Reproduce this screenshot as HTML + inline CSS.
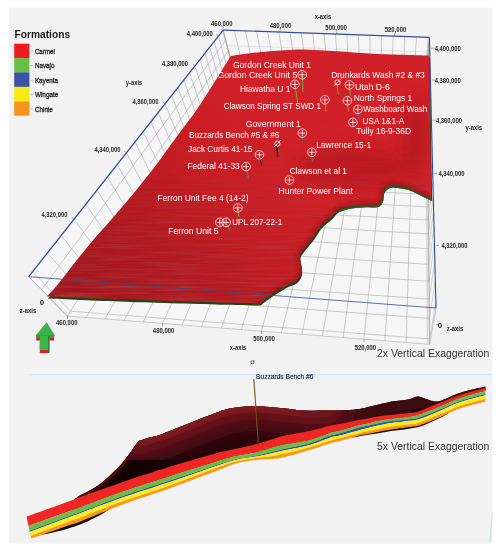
<!DOCTYPE html>
<html><head><meta charset="utf-8"><title>Formations 3D model</title>
<style>html,body{margin:0;padding:0;background:#fff}svg{display:block}</style></head>
<body>
<svg width="501" height="550" viewBox="0 0 501 550">
<defs>
<linearGradient id="rg" gradientUnits="userSpaceOnUse" x1="275" y1="125" x2="75" y2="325">
<stop offset="0" stop-color="#d22028"/><stop offset="0.325" stop-color="#c61c23"/><stop offset="0.7" stop-color="#ab181e"/><stop offset="1" stop-color="#9d161c"/>
</linearGradient>
<filter id="bl" x="-50%" y="-50%" width="200%" height="200%"><feGaussianBlur stdDeviation="6"/></filter>
<filter id="bl2" x="-50%" y="-50%" width="200%" height="200%"><feGaussianBlur stdDeviation="2"/></filter>
<filter id="bl3" x="-50%" y="-50%" width="200%" height="200%"><feGaussianBlur stdDeviation="3"/></filter>

<filter id="tex" x="0" y="0" width="100%" height="100%"><feTurbulence type="fractalNoise" baseFrequency="0.02 0.45" numOctaves="2" seed="7"/><feColorMatrix type="matrix" values="0 0 0 0 0.45  0 0 0 0 0.04  0 0 0 0 0.05  1.8 0 0 0 -0.72"/></filter>
<linearGradient id="texm" gradientUnits="userSpaceOnUse" x1="0" y1="120" x2="0" y2="300"><stop offset="0" stop-color="#fff" stop-opacity="0"/><stop offset="0.5" stop-color="#fff" stop-opacity="0.6"/><stop offset="1" stop-color="#fff" stop-opacity="1"/></linearGradient>
<mask id="texmask"><rect x="0" y="0" width="501" height="550" fill="url(#texm)"/></mask>
</defs>
<rect width="501" height="550" fill="#ffffff"/>
<rect x="8.8" y="7.6" width="483.6" height="536" fill="#f2f2f2"/>
<polygon points="223.2,30.1 429.4,37.4 426.9,66.3 231.2,61.1" fill="#f6f6f6" />
<polygon points="223.2,30.1 231.2,61.1 67.4,316.0 28.7,276.7" fill="#f6f6f6" />
<polygon points="231.2,61.1 426.9,66.3 429.6,344.3 67.4,316.0" fill="#f7f7f7" />
<polygon points="429.4,37.4 436.0,308.0 429.6,344.3 426.9,66.3" fill="#f6f6f6" />
<line x1="231.2" y1="61.1" x2="67.4" y2="316.0" stroke="#9a9a9a" stroke-width="0.5" />
<line x1="241.6" y1="61.4" x2="86.1" y2="317.5" stroke="#9a9a9a" stroke-width="0.5" />
<line x1="252.1" y1="61.6" x2="105.0" y2="318.9" stroke="#9a9a9a" stroke-width="0.5" />
<line x1="262.7" y1="61.9" x2="124.0" y2="320.4" stroke="#9a9a9a" stroke-width="0.5" />
<line x1="273.2" y1="62.2" x2="143.2" y2="321.9" stroke="#9a9a9a" stroke-width="0.5" />
<line x1="283.8" y1="62.5" x2="162.5" y2="323.4" stroke="#9a9a9a" stroke-width="0.5" />
<line x1="294.5" y1="62.8" x2="182.0" y2="325.0" stroke="#9a9a9a" stroke-width="0.5" />
<line x1="305.2" y1="63.1" x2="201.6" y2="326.5" stroke="#9a9a9a" stroke-width="0.5" />
<line x1="315.9" y1="63.3" x2="221.3" y2="328.0" stroke="#9a9a9a" stroke-width="0.5" />
<line x1="326.7" y1="63.6" x2="241.2" y2="329.6" stroke="#9a9a9a" stroke-width="0.5" />
<line x1="337.6" y1="63.9" x2="261.3" y2="331.1" stroke="#9a9a9a" stroke-width="0.5" />
<line x1="348.4" y1="64.2" x2="281.5" y2="332.7" stroke="#9a9a9a" stroke-width="0.5" />
<line x1="359.3" y1="64.5" x2="301.8" y2="334.3" stroke="#9a9a9a" stroke-width="0.5" />
<line x1="370.3" y1="64.8" x2="322.4" y2="335.9" stroke="#9a9a9a" stroke-width="0.5" />
<line x1="381.3" y1="65.1" x2="343.1" y2="337.5" stroke="#9a9a9a" stroke-width="0.5" />
<line x1="392.4" y1="65.4" x2="363.9" y2="339.2" stroke="#9a9a9a" stroke-width="0.5" />
<line x1="403.5" y1="65.7" x2="384.9" y2="340.8" stroke="#9a9a9a" stroke-width="0.5" />
<line x1="414.6" y1="66.0" x2="406.1" y2="342.5" stroke="#9a9a9a" stroke-width="0.5" />
<line x1="425.8" y1="66.3" x2="427.5" y2="344.1" stroke="#9a9a9a" stroke-width="0.5" />
<line x1="426.9" y1="66.3" x2="429.6" y2="344.3" stroke="#9a9a9a" stroke-width="0.5" />
<line x1="231.2" y1="61.1" x2="426.9" y2="66.3" stroke="#9a9a9a" stroke-width="0.5" />
<line x1="230.7" y1="61.8" x2="426.9" y2="67.1" stroke="#9a9a9a" stroke-width="0.5" />
<line x1="227.0" y1="67.6" x2="427.0" y2="73.2" stroke="#9a9a9a" stroke-width="0.5" />
<line x1="223.1" y1="73.7" x2="427.1" y2="79.6" stroke="#9a9a9a" stroke-width="0.5" />
<line x1="219.1" y1="79.9" x2="427.1" y2="86.2" stroke="#9a9a9a" stroke-width="0.5" />
<line x1="214.9" y1="86.4" x2="427.2" y2="93.1" stroke="#9a9a9a" stroke-width="0.5" />
<line x1="210.6" y1="93.2" x2="427.3" y2="100.4" stroke="#9a9a9a" stroke-width="0.5" />
<line x1="206.0" y1="100.3" x2="427.3" y2="107.9" stroke="#9a9a9a" stroke-width="0.5" />
<line x1="201.3" y1="107.7" x2="427.4" y2="115.8" stroke="#9a9a9a" stroke-width="0.5" />
<line x1="196.3" y1="115.4" x2="427.5" y2="124.0" stroke="#9a9a9a" stroke-width="0.5" />
<line x1="191.1" y1="123.4" x2="427.6" y2="132.7" stroke="#9a9a9a" stroke-width="0.5" />
<line x1="185.7" y1="131.9" x2="427.7" y2="141.7" stroke="#9a9a9a" stroke-width="0.5" />
<line x1="180.0" y1="140.7" x2="427.8" y2="151.2" stroke="#9a9a9a" stroke-width="0.5" />
<line x1="174.1" y1="150.0" x2="427.8" y2="161.2" stroke="#9a9a9a" stroke-width="0.5" />
<line x1="167.8" y1="159.7" x2="428.0" y2="171.7" stroke="#9a9a9a" stroke-width="0.5" />
<line x1="161.2" y1="170.0" x2="428.1" y2="182.8" stroke="#9a9a9a" stroke-width="0.5" />
<line x1="154.3" y1="180.7" x2="428.2" y2="194.5" stroke="#9a9a9a" stroke-width="0.5" />
<line x1="147.0" y1="192.1" x2="428.3" y2="206.9" stroke="#9a9a9a" stroke-width="0.5" />
<line x1="139.3" y1="204.1" x2="428.4" y2="220.0" stroke="#9a9a9a" stroke-width="0.5" />
<line x1="131.2" y1="216.8" x2="428.5" y2="233.9" stroke="#9a9a9a" stroke-width="0.5" />
<line x1="122.5" y1="230.2" x2="428.7" y2="248.7" stroke="#9a9a9a" stroke-width="0.5" />
<line x1="113.4" y1="244.4" x2="428.8" y2="264.4" stroke="#9a9a9a" stroke-width="0.5" />
<line x1="103.7" y1="259.6" x2="429.0" y2="281.2" stroke="#9a9a9a" stroke-width="0.5" />
<line x1="93.3" y1="275.7" x2="429.2" y2="299.1" stroke="#9a9a9a" stroke-width="0.5" />
<line x1="82.3" y1="292.8" x2="429.4" y2="318.3" stroke="#9a9a9a" stroke-width="0.5" />
<line x1="70.5" y1="311.2" x2="429.5" y2="338.9" stroke="#9a9a9a" stroke-width="0.5" />
<line x1="67.4" y1="316.0" x2="429.6" y2="344.3" stroke="#9a9a9a" stroke-width="0.5" />
<line x1="223.2" y1="30.1" x2="231.2" y2="61.1" stroke="#9a9a9a" stroke-width="0.5" />
<line x1="234.3" y1="30.5" x2="241.6" y2="61.4" stroke="#9a9a9a" stroke-width="0.5" />
<line x1="245.3" y1="30.9" x2="252.1" y2="61.6" stroke="#9a9a9a" stroke-width="0.5" />
<line x1="256.5" y1="31.3" x2="262.7" y2="61.9" stroke="#9a9a9a" stroke-width="0.5" />
<line x1="267.6" y1="31.7" x2="273.2" y2="62.2" stroke="#9a9a9a" stroke-width="0.5" />
<line x1="278.8" y1="32.1" x2="283.8" y2="62.5" stroke="#9a9a9a" stroke-width="0.5" />
<line x1="290.1" y1="32.5" x2="294.5" y2="62.8" stroke="#9a9a9a" stroke-width="0.5" />
<line x1="301.4" y1="32.9" x2="305.2" y2="63.1" stroke="#9a9a9a" stroke-width="0.5" />
<line x1="312.7" y1="33.3" x2="315.9" y2="63.3" stroke="#9a9a9a" stroke-width="0.5" />
<line x1="324.1" y1="33.7" x2="326.7" y2="63.6" stroke="#9a9a9a" stroke-width="0.5" />
<line x1="335.5" y1="34.1" x2="337.6" y2="63.9" stroke="#9a9a9a" stroke-width="0.5" />
<line x1="346.9" y1="34.5" x2="348.4" y2="64.2" stroke="#9a9a9a" stroke-width="0.5" />
<line x1="358.4" y1="34.9" x2="359.3" y2="64.5" stroke="#9a9a9a" stroke-width="0.5" />
<line x1="369.9" y1="35.3" x2="370.3" y2="64.8" stroke="#9a9a9a" stroke-width="0.5" />
<line x1="381.5" y1="35.7" x2="381.3" y2="65.1" stroke="#9a9a9a" stroke-width="0.5" />
<line x1="393.1" y1="36.1" x2="392.4" y2="65.4" stroke="#9a9a9a" stroke-width="0.5" />
<line x1="404.8" y1="36.5" x2="403.5" y2="65.7" stroke="#9a9a9a" stroke-width="0.5" />
<line x1="416.5" y1="36.9" x2="414.6" y2="66.0" stroke="#9a9a9a" stroke-width="0.5" />
<line x1="428.2" y1="37.4" x2="425.8" y2="66.3" stroke="#9a9a9a" stroke-width="0.5" />
<line x1="429.4" y1="37.4" x2="426.9" y2="66.3" stroke="#9a9a9a" stroke-width="0.5" />
<line x1="227.2" y1="45.6" x2="428.2" y2="51.8" stroke="#c4c4c4" stroke-width="0.4" />
<line x1="222.7" y1="30.8" x2="230.7" y2="61.8" stroke="#9a9a9a" stroke-width="0.5" />
<line x1="218.5" y1="36.1" x2="227.0" y2="67.6" stroke="#9a9a9a" stroke-width="0.5" />
<line x1="214.2" y1="41.5" x2="223.1" y2="73.7" stroke="#9a9a9a" stroke-width="0.5" />
<line x1="209.7" y1="47.3" x2="219.1" y2="79.9" stroke="#9a9a9a" stroke-width="0.5" />
<line x1="205.0" y1="53.2" x2="214.9" y2="86.4" stroke="#9a9a9a" stroke-width="0.5" />
<line x1="200.0" y1="59.5" x2="210.6" y2="93.2" stroke="#9a9a9a" stroke-width="0.5" />
<line x1="194.9" y1="66.0" x2="206.0" y2="100.3" stroke="#9a9a9a" stroke-width="0.5" />
<line x1="189.5" y1="72.8" x2="201.3" y2="107.7" stroke="#9a9a9a" stroke-width="0.5" />
<line x1="183.8" y1="80.0" x2="196.3" y2="115.4" stroke="#9a9a9a" stroke-width="0.5" />
<line x1="177.9" y1="87.5" x2="191.1" y2="123.4" stroke="#9a9a9a" stroke-width="0.5" />
<line x1="171.7" y1="95.4" x2="185.7" y2="131.9" stroke="#9a9a9a" stroke-width="0.5" />
<line x1="165.1" y1="103.8" x2="180.0" y2="140.7" stroke="#9a9a9a" stroke-width="0.5" />
<line x1="158.2" y1="112.5" x2="174.1" y2="150.0" stroke="#9a9a9a" stroke-width="0.5" />
<line x1="150.9" y1="121.8" x2="167.8" y2="159.7" stroke="#9a9a9a" stroke-width="0.5" />
<line x1="143.2" y1="131.5" x2="161.2" y2="170.0" stroke="#9a9a9a" stroke-width="0.5" />
<line x1="135.0" y1="141.9" x2="154.3" y2="180.7" stroke="#9a9a9a" stroke-width="0.5" />
<line x1="126.4" y1="152.9" x2="147.0" y2="192.1" stroke="#9a9a9a" stroke-width="0.5" />
<line x1="117.2" y1="164.5" x2="139.3" y2="204.1" stroke="#9a9a9a" stroke-width="0.5" />
<line x1="107.4" y1="176.9" x2="131.2" y2="216.8" stroke="#9a9a9a" stroke-width="0.5" />
<line x1="97.0" y1="190.1" x2="122.5" y2="230.2" stroke="#9a9a9a" stroke-width="0.5" />
<line x1="85.9" y1="204.2" x2="113.4" y2="244.4" stroke="#9a9a9a" stroke-width="0.5" />
<line x1="74.0" y1="219.3" x2="103.7" y2="259.6" stroke="#9a9a9a" stroke-width="0.5" />
<line x1="61.2" y1="235.5" x2="93.3" y2="275.7" stroke="#9a9a9a" stroke-width="0.5" />
<line x1="47.4" y1="252.9" x2="82.3" y2="292.8" stroke="#9a9a9a" stroke-width="0.5" />
<line x1="32.6" y1="271.8" x2="70.5" y2="311.2" stroke="#9a9a9a" stroke-width="0.5" />
<line x1="28.7" y1="276.7" x2="67.4" y2="316.0" stroke="#9a9a9a" stroke-width="0.5" />
<line x1="225.8" y1="40.3" x2="41.5" y2="289.7" stroke="#9a9a9a" stroke-width="0.5" />
<line x1="228.5" y1="50.5" x2="150.1" y2="164.0" stroke="#9a9a9a" stroke-width="0.5" />
<line x1="429.4" y1="38.1" x2="426.9" y2="67.1" stroke="#9a9a9a" stroke-width="0.4" />
<line x1="429.6" y1="43.7" x2="427.0" y2="73.2" stroke="#9a9a9a" stroke-width="0.4" />
<line x1="429.7" y1="49.6" x2="427.1" y2="79.6" stroke="#9a9a9a" stroke-width="0.4" />
<line x1="429.8" y1="55.7" x2="427.1" y2="86.2" stroke="#9a9a9a" stroke-width="0.4" />
<line x1="430.0" y1="62.0" x2="427.2" y2="93.1" stroke="#9a9a9a" stroke-width="0.4" />
<line x1="430.2" y1="68.7" x2="427.3" y2="100.4" stroke="#9a9a9a" stroke-width="0.4" />
<line x1="430.3" y1="75.7" x2="427.3" y2="107.9" stroke="#9a9a9a" stroke-width="0.4" />
<line x1="430.5" y1="83.1" x2="427.4" y2="115.8" stroke="#9a9a9a" stroke-width="0.4" />
<line x1="430.7" y1="90.8" x2="427.5" y2="124.0" stroke="#9a9a9a" stroke-width="0.4" />
<line x1="430.9" y1="98.9" x2="427.6" y2="132.7" stroke="#9a9a9a" stroke-width="0.4" />
<line x1="431.1" y1="107.4" x2="427.7" y2="141.7" stroke="#9a9a9a" stroke-width="0.4" />
<line x1="431.3" y1="116.4" x2="427.8" y2="151.2" stroke="#9a9a9a" stroke-width="0.4" />
<line x1="431.6" y1="125.9" x2="427.8" y2="161.2" stroke="#9a9a9a" stroke-width="0.4" />
<line x1="431.8" y1="136.0" x2="428.0" y2="171.7" stroke="#9a9a9a" stroke-width="0.4" />
<line x1="432.1" y1="146.6" x2="428.1" y2="182.8" stroke="#9a9a9a" stroke-width="0.4" />
<line x1="432.3" y1="157.9" x2="428.2" y2="194.5" stroke="#9a9a9a" stroke-width="0.4" />
<line x1="432.6" y1="169.9" x2="428.3" y2="206.9" stroke="#9a9a9a" stroke-width="0.4" />
<line x1="432.9" y1="182.7" x2="428.4" y2="220.0" stroke="#9a9a9a" stroke-width="0.4" />
<line x1="433.3" y1="196.4" x2="428.5" y2="233.9" stroke="#9a9a9a" stroke-width="0.4" />
<line x1="433.6" y1="211.0" x2="428.7" y2="248.7" stroke="#9a9a9a" stroke-width="0.4" />
<line x1="434.0" y1="226.6" x2="428.8" y2="264.4" stroke="#9a9a9a" stroke-width="0.4" />
<line x1="434.4" y1="243.4" x2="429.0" y2="281.2" stroke="#9a9a9a" stroke-width="0.4" />
<line x1="434.9" y1="261.6" x2="429.2" y2="299.1" stroke="#9a9a9a" stroke-width="0.4" />
<line x1="435.3" y1="281.2" x2="429.4" y2="318.3" stroke="#9a9a9a" stroke-width="0.4" />
<line x1="435.9" y1="302.4" x2="429.5" y2="338.9" stroke="#9a9a9a" stroke-width="0.4" />
<line x1="28.7" y1="276.7" x2="67.4" y2="316.0" stroke="#9a9a9a" stroke-width="0.6" />
<line x1="436.0" y1="308.0" x2="429.6" y2="344.3" stroke="#9a9a9a" stroke-width="0.6" />
<line x1="223.2" y1="30.1" x2="231.2" y2="61.1" stroke="#9a9a9a" stroke-width="0.6" />
<line x1="429.4" y1="37.4" x2="426.9" y2="66.3" stroke="#9a9a9a" stroke-width="0.6" />
<line x1="426.9" y1="66.3" x2="429.6" y2="344.3" stroke="#9a9a9a" stroke-width="0.6" />
<path d="M230.8,56.0 C234.0,55.5 243.5,54.1 250.0,53.3 C256.5,52.5 261.3,51.9 270.0,51.2 C278.7,50.6 290.8,49.4 302.0,49.4 C313.2,49.4 325.7,50.5 337.0,51.2 C348.3,51.9 359.5,52.9 370.0,53.5 C380.5,54.1 390.1,54.4 400.0,54.8 C409.9,55.1 424.3,55.5 429.2,55.6 L430.4,144.7 L431.4,198.6 C429.6,197.8 424.7,195.4 420.9,193.6 C417.1,191.8 412.8,189.3 408.4,187.9 C404.0,186.5 398.0,185.7 394.7,185.4 C391.4,185.1 390.2,185.2 388.3,186.2 C386.4,187.2 384.4,188.9 383.3,191.2 C382.2,193.5 383.1,197.6 382.0,199.9 C380.9,202.2 379.7,204.1 377.0,204.9 C374.3,205.7 370.2,204.7 365.8,204.9 C361.4,205.1 355.4,205.4 350.8,206.2 C346.2,207.0 341.7,208.0 338.4,209.9 C335.1,211.8 333.8,214.7 330.9,217.4 C328.0,220.1 323.8,222.8 320.9,226.1 C318.0,229.4 316.3,233.4 313.4,237.3 C310.5,241.2 305.7,246.7 303.4,249.8 C301.1,252.9 300.1,253.6 299.7,256.1 C299.3,258.6 300.8,261.9 301.0,264.8 C301.2,267.7 301.8,271.0 301.0,273.7 C300.2,276.4 298.7,279.1 296.0,281.2 C293.3,283.3 289.6,283.5 284.8,286.2 C280.0,288.9 271.5,294.5 267.4,297.4 C263.2,300.2 261.1,302.3 259.9,303.3 C254.0,303.2 247.2,303.1 224.7,302.5 C202.2,301.9 154.3,300.6 124.7,299.5 C95.1,298.4 60.0,296.8 47.0,296.2 C48.5,294.6 52.1,291.4 55.9,286.8 C59.7,282.2 64.2,276.0 69.9,268.9 C75.6,261.8 83.0,252.2 89.9,243.9 C96.8,235.7 104.7,227.1 111.4,219.4 C118.1,211.7 124.2,204.7 129.9,197.8 C135.7,190.9 140.9,184.2 145.9,177.9 C150.9,171.6 154.9,166.6 159.9,159.9 C164.9,153.2 171.0,144.5 175.8,138.0 C180.6,131.5 184.9,125.8 188.5,121.0 C192.1,116.2 194.2,113.3 197.2,108.9 C200.2,104.5 203.8,99.0 206.7,94.5 C209.6,90.0 212.0,86.0 214.7,81.7 C217.4,77.5 220.0,73.3 222.7,69.0 C225.4,64.7 229.5,58.2 230.8,56.0 Z" fill="#22441a" transform="translate(0.8,2.3)"/>
<path d="M431.4,198.6 C429.6,197.8 424.7,195.4 420.9,193.6 C417.1,191.8 412.8,189.3 408.4,187.9 C404.0,186.5 398.0,185.7 394.7,185.4 C391.4,185.1 390.2,185.2 388.3,186.2 C386.4,187.2 384.4,188.9 383.3,191.2 C382.2,193.5 383.1,197.6 382.0,199.9 C380.9,202.2 379.7,204.1 377.0,204.9 C374.3,205.7 370.2,204.7 365.8,204.9 C361.4,205.1 355.4,205.4 350.8,206.2 C346.2,207.0 340.5,209.3 338.4,209.9" fill="none" stroke="#2a5c22" stroke-width="1.7" transform="translate(0.3,1.4)"/>
<clipPath id="redclip"><path d="M230.8,56.0 C234.0,55.5 243.5,54.1 250.0,53.3 C256.5,52.5 261.3,51.9 270.0,51.2 C278.7,50.6 290.8,49.4 302.0,49.4 C313.2,49.4 325.7,50.5 337.0,51.2 C348.3,51.9 359.5,52.9 370.0,53.5 C380.5,54.1 390.1,54.4 400.0,54.8 C409.9,55.1 424.3,55.5 429.2,55.6 L430.4,144.7 L431.4,198.6 C429.6,197.8 424.7,195.4 420.9,193.6 C417.1,191.8 412.8,189.3 408.4,187.9 C404.0,186.5 398.0,185.7 394.7,185.4 C391.4,185.1 390.2,185.2 388.3,186.2 C386.4,187.2 384.4,188.9 383.3,191.2 C382.2,193.5 383.1,197.6 382.0,199.9 C380.9,202.2 379.7,204.1 377.0,204.9 C374.3,205.7 370.2,204.7 365.8,204.9 C361.4,205.1 355.4,205.4 350.8,206.2 C346.2,207.0 341.7,208.0 338.4,209.9 C335.1,211.8 333.8,214.7 330.9,217.4 C328.0,220.1 323.8,222.8 320.9,226.1 C318.0,229.4 316.3,233.4 313.4,237.3 C310.5,241.2 305.7,246.7 303.4,249.8 C301.1,252.9 300.1,253.6 299.7,256.1 C299.3,258.6 300.8,261.9 301.0,264.8 C301.2,267.7 301.8,271.0 301.0,273.7 C300.2,276.4 298.7,279.1 296.0,281.2 C293.3,283.3 289.6,283.5 284.8,286.2 C280.0,288.9 271.5,294.5 267.4,297.4 C263.2,300.2 261.1,302.3 259.9,303.3 C254.0,303.2 247.2,303.1 224.7,302.5 C202.2,301.9 154.3,300.6 124.7,299.5 C95.1,298.4 60.0,296.8 47.0,296.2 C48.5,294.6 52.1,291.4 55.9,286.8 C59.7,282.2 64.2,276.0 69.9,268.9 C75.6,261.8 83.0,252.2 89.9,243.9 C96.8,235.7 104.7,227.1 111.4,219.4 C118.1,211.7 124.2,204.7 129.9,197.8 C135.7,190.9 140.9,184.2 145.9,177.9 C150.9,171.6 154.9,166.6 159.9,159.9 C164.9,153.2 171.0,144.5 175.8,138.0 C180.6,131.5 184.9,125.8 188.5,121.0 C192.1,116.2 194.2,113.3 197.2,108.9 C200.2,104.5 203.8,99.0 206.7,94.5 C209.6,90.0 212.0,86.0 214.7,81.7 C217.4,77.5 220.0,73.3 222.7,69.0 C225.4,64.7 229.5,58.2 230.8,56.0 Z"/></clipPath>
<path id="redshape" d="M230.8,56.0 C234.0,55.5 243.5,54.1 250.0,53.3 C256.5,52.5 261.3,51.9 270.0,51.2 C278.7,50.6 290.8,49.4 302.0,49.4 C313.2,49.4 325.7,50.5 337.0,51.2 C348.3,51.9 359.5,52.9 370.0,53.5 C380.5,54.1 390.1,54.4 400.0,54.8 C409.9,55.1 424.3,55.5 429.2,55.6 L430.4,144.7 L431.4,198.6 C429.6,197.8 424.7,195.4 420.9,193.6 C417.1,191.8 412.8,189.3 408.4,187.9 C404.0,186.5 398.0,185.7 394.7,185.4 C391.4,185.1 390.2,185.2 388.3,186.2 C386.4,187.2 384.4,188.9 383.3,191.2 C382.2,193.5 383.1,197.6 382.0,199.9 C380.9,202.2 379.7,204.1 377.0,204.9 C374.3,205.7 370.2,204.7 365.8,204.9 C361.4,205.1 355.4,205.4 350.8,206.2 C346.2,207.0 341.7,208.0 338.4,209.9 C335.1,211.8 333.8,214.7 330.9,217.4 C328.0,220.1 323.8,222.8 320.9,226.1 C318.0,229.4 316.3,233.4 313.4,237.3 C310.5,241.2 305.7,246.7 303.4,249.8 C301.1,252.9 300.1,253.6 299.7,256.1 C299.3,258.6 300.8,261.9 301.0,264.8 C301.2,267.7 301.8,271.0 301.0,273.7 C300.2,276.4 298.7,279.1 296.0,281.2 C293.3,283.3 289.6,283.5 284.8,286.2 C280.0,288.9 271.5,294.5 267.4,297.4 C263.2,300.2 261.1,302.3 259.9,303.3 C254.0,303.2 247.2,303.1 224.7,302.5 C202.2,301.9 154.3,300.6 124.7,299.5 C95.1,298.4 60.0,296.8 47.0,296.2 C48.5,294.6 52.1,291.4 55.9,286.8 C59.7,282.2 64.2,276.0 69.9,268.9 C75.6,261.8 83.0,252.2 89.9,243.9 C96.8,235.7 104.7,227.1 111.4,219.4 C118.1,211.7 124.2,204.7 129.9,197.8 C135.7,190.9 140.9,184.2 145.9,177.9 C150.9,171.6 154.9,166.6 159.9,159.9 C164.9,153.2 171.0,144.5 175.8,138.0 C180.6,131.5 184.9,125.8 188.5,121.0 C192.1,116.2 194.2,113.3 197.2,108.9 C200.2,104.5 203.8,99.0 206.7,94.5 C209.6,90.0 212.0,86.0 214.7,81.7 C217.4,77.5 220.0,73.3 222.7,69.0 C225.4,64.7 229.5,58.2 230.8,56.0 Z" fill="url(#rg)"/>
<g clip-path="url(#redclip)">
<ellipse cx="415" cy="140" rx="14" ry="45" fill="#a3151e" opacity="0.4" filter="url(#bl)"/>
<ellipse cx="350" cy="168" rx="55" ry="22" fill="#a8161f" opacity="0.45" filter="url(#bl)"/>
<path d="M431.4,198.6 C429.6,197.8 424.7,195.4 420.9,193.6 C417.1,191.8 412.8,189.3 408.4,187.9 C404.0,186.5 398.0,185.7 394.7,185.4 C391.4,185.1 390.2,185.2 388.3,186.2 C386.4,187.2 384.4,188.9 383.3,191.2 C382.2,193.5 383.1,197.6 382.0,199.9 C380.9,202.2 379.7,204.1 377.0,204.9 C374.3,205.7 370.2,204.7 365.8,204.9 C361.4,205.1 355.4,205.4 350.8,206.2 C346.2,207.0 341.7,208.0 338.4,209.9 C335.1,211.8 333.8,214.7 330.9,217.4 C328.0,220.1 323.8,222.8 320.9,226.1 C318.0,229.4 316.3,233.4 313.4,237.3 C310.5,241.2 305.7,246.7 303.4,249.8 C301.1,252.9 300.1,253.6 299.7,256.1 C299.3,258.6 300.8,261.9 301.0,264.8 C301.2,267.7 301.8,271.0 301.0,273.7 C300.2,276.4 298.7,279.1 296.0,281.2 C293.3,283.3 289.6,283.5 284.8,286.2 C280.0,288.9 271.5,294.5 267.4,297.4 C263.2,300.2 261.1,302.3 259.9,303.3" fill="none" stroke="#7d0f16" stroke-width="7" opacity="0.55" filter="url(#bl2)"/>
<g mask="url(#texmask)"><rect x="40" y="100" width="400" height="210" filter="url(#tex)"/></g>
</g>
<line x1="28.7" y1="276.7" x2="223.2" y2="30.1" stroke="#314d96" stroke-width="1.3" />
<line x1="223.2" y1="30.1" x2="429.4" y2="37.4" stroke="#314d96" stroke-width="1.15" />
<line x1="429.4" y1="37.4" x2="436.0" y2="308.0" stroke="#314d96" stroke-width="1.1" />
<line x1="28.7" y1="276.7" x2="436.0" y2="308.0" stroke="#314d96" stroke-width="0.8" />
<line x1="302.2" y1="75.8" x2="302.9" y2="91.8" stroke="#7ac043" stroke-width="0.8"/>
<line x1="303.0" y1="80.8" x2="303.8" y2="88.8" stroke="#6a5ab0" stroke-width="0.7"/>
<g stroke="#ffffff" stroke-width="0.75" fill="none"><circle cx="302.2" cy="74.8" r="4.3"/><line x1="299.1" y1="74.8" x2="305.3" y2="74.8"/><line x1="302.2" y1="71.7" x2="302.2" y2="77.9"/></g>
<line x1="295.1" y1="85.3" x2="297.9" y2="104.3" stroke="#7ac043" stroke-width="0.8"/>
<g stroke="#ffffff" stroke-width="0.75" fill="none"><circle cx="294.9" cy="84.3" r="4.3"/><line x1="291.8" y1="84.3" x2="298.0" y2="84.3"/><line x1="294.9" y1="81.2" x2="294.9" y2="87.4"/></g>
<line x1="325.2" y1="101.8" x2="325.8" y2="111.8" stroke="#7ac043" stroke-width="0.8"/>
<g stroke="#ffffff" stroke-width="0.75" fill="none"><circle cx="324.9" cy="99.8" r="4.3"/><line x1="321.8" y1="99.8" x2="328.0" y2="99.8"/><line x1="324.9" y1="96.7" x2="324.9" y2="102.9"/></g>
<line x1="302.6" y1="136.1" x2="303.9" y2="143.1" stroke="#3b3f8f" stroke-width="0.9"/>
<line x1="302.4" y1="135.1" x2="303.1" y2="141.1" stroke="#4a9a5a" stroke-width="0.6"/>
<g stroke="#ffffff" stroke-width="0.75" fill="none"><circle cx="302.3" cy="133.1" r="4.3"/><line x1="299.2" y1="133.1" x2="305.4" y2="133.1"/><line x1="302.3" y1="130.0" x2="302.3" y2="136.2"/></g>
<line x1="276.6" y1="146" x2="277.8" y2="157" stroke="#111" stroke-width="1.1"/><line x1="278.5" y1="148" x2="280.3" y2="156" stroke="#3c7a34" stroke-width="0.9"/>
<g stroke="#ffffff" stroke-width="0.8" fill="none"><circle cx="277.4" cy="143.6" r="2.6"/><line x1="273.79999999999995" y1="147.2" x2="281.0" y2="140.0"/></g>
<line x1="259.7" y1="157.8" x2="261.6" y2="165.8" stroke="#3a1518" stroke-width="1.0"/>
<g stroke="#ffffff" stroke-width="0.75" fill="none"><circle cx="259.4" cy="154.8" r="4.3"/><line x1="256.3" y1="154.8" x2="262.5" y2="154.8"/><line x1="259.4" y1="151.7" x2="259.4" y2="157.9"/></g>
<line x1="246.6" y1="169.6" x2="248.5" y2="178.6" stroke="#3f8f7f" stroke-width="0.9"/>
<g stroke="#ffffff" stroke-width="0.75" fill="none"><circle cx="246.1" cy="166.6" r="4.3"/><line x1="243.0" y1="166.6" x2="249.2" y2="166.6"/><line x1="246.1" y1="163.5" x2="246.1" y2="169.7"/></g>
<line x1="311.9" y1="154.3" x2="312.3" y2="161.3" stroke="#4aa04a" stroke-width="0.8"/>
<g stroke="#ffffff" stroke-width="0.75" fill="none"><circle cx="311.8" cy="152.3" r="4.3"/><line x1="308.7" y1="152.3" x2="314.9" y2="152.3"/><line x1="311.8" y1="149.2" x2="311.8" y2="155.4"/></g>
<g stroke="#ffffff" stroke-width="0.75" fill="none"><circle cx="289.4" cy="180" r="4.3"/><line x1="286.3" y1="180" x2="292.5" y2="180"/><line x1="289.4" y1="176.9" x2="289.4" y2="183.1"/></g>
<circle cx="279" cy="185.7" r="1.3" fill="#2b3bd0"/>
<line x1="337.2" y1="84" x2="338.3" y2="95" stroke="#8aa03a" stroke-width="0.8"/>
<g stroke="#ffffff" stroke-width="0.8" fill="none"><circle cx="337.5" cy="82.4" r="2.6"/><line x1="333.9" y1="86.0" x2="341.1" y2="78.80000000000001"/></g>
<line x1="349.6" y1="85.9" x2="350.3" y2="95.9" stroke="#7ac043" stroke-width="0.8"/>
<g stroke="#ffffff" stroke-width="0.75" fill="none"><circle cx="349.4" cy="84.9" r="4.3"/><line x1="346.3" y1="84.9" x2="352.5" y2="84.9"/><line x1="349.4" y1="81.8" x2="349.4" y2="88.0"/></g>
<line x1="347.6" y1="101.7" x2="348.3" y2="111.7" stroke="#a8a03a" stroke-width="0.8"/>
<g stroke="#ffffff" stroke-width="0.75" fill="none"><circle cx="347.4" cy="100.7" r="4.3"/><line x1="344.3" y1="100.7" x2="350.5" y2="100.7"/><line x1="347.4" y1="97.6" x2="347.4" y2="103.8"/></g>
<line x1="358.1" y1="110.4" x2="358.8" y2="119.4" stroke="#4a6fa8" stroke-width="0.8"/>
<g stroke="#ffffff" stroke-width="0.75" fill="none"><circle cx="357.9" cy="109.4" r="4.3"/><line x1="354.8" y1="109.4" x2="361.0" y2="109.4"/><line x1="357.9" y1="106.3" x2="357.9" y2="112.5"/></g>
<line x1="353.1" y1="123.4" x2="353.8" y2="131.4" stroke="#5a4fa8" stroke-width="0.8"/>
<g stroke="#ffffff" stroke-width="0.75" fill="none"><circle cx="352.9" cy="122.4" r="4.3"/><line x1="349.8" y1="122.4" x2="356.0" y2="122.4"/><line x1="352.9" y1="119.3" x2="352.9" y2="125.5"/></g>
<line x1="238.0" y1="208.9" x2="238.7" y2="216.9" stroke="#9abe3a" stroke-width="0.8"/>
<g stroke="#ffffff" stroke-width="0.75" fill="none"><circle cx="237.8" cy="207.9" r="4.3"/><line x1="234.7" y1="207.9" x2="240.9" y2="207.9"/><line x1="237.8" y1="204.8" x2="237.8" y2="211.0"/></g>
<g stroke="#ffffff" stroke-width="0.75" fill="none"><circle cx="219.8" cy="222.4" r="4.3"/><line x1="216.7" y1="222.4" x2="222.9" y2="222.4"/><line x1="219.8" y1="219.3" x2="219.8" y2="225.5"/></g>
<line x1="227.1" y1="224.4" x2="229.6" y2="230.4" stroke="#3fae4a" stroke-width="0.9"/>
<g stroke="#ffffff" stroke-width="0.75" fill="none"><circle cx="226.1" cy="222.4" r="4.3"/><line x1="223.0" y1="222.4" x2="229.2" y2="222.4"/><line x1="226.1" y1="219.3" x2="226.1" y2="225.5"/></g>
<g font-family="'Liberation Sans', Arial, sans-serif">
<text x="233.0" y="67.5" textLength="78.0" lengthAdjust="spacingAndGlyphs" fill="#ffffff" font-size="8.9">Gordon Creek Unit 1</text>
<text x="217.5" y="78.0" textLength="79.8" lengthAdjust="spacingAndGlyphs" fill="#ffffff" font-size="8.9">Gordon Creek Unit 5</text>
<text x="240.0" y="92.4" textLength="50.3" lengthAdjust="spacingAndGlyphs" fill="#ffffff" font-size="8.9">Hiawatha U 1</text>
<text x="223.7" y="109.1" textLength="97.3" lengthAdjust="spacingAndGlyphs" fill="#ffffff" font-size="8.9">Clawson Spring ST SWD 1</text>
<text x="245.7" y="126.9" textLength="55.3" lengthAdjust="spacingAndGlyphs" fill="#ffffff" font-size="8.9">Government 1</text>
<text x="189.0" y="138.1" textLength="90.4" lengthAdjust="spacingAndGlyphs" fill="#ffffff" font-size="8.9">Buzzards Bench #5 &amp; #6</text>
<text x="188.0" y="152.3" textLength="64.4" lengthAdjust="spacingAndGlyphs" fill="#ffffff" font-size="8.9">Jack Curtis 41-15</text>
<text x="187.4" y="169.2" textLength="52.4" lengthAdjust="spacingAndGlyphs" fill="#ffffff" font-size="8.9">Federal 41-33</text>
<text x="316.2" y="147.6" textLength="54.9" lengthAdjust="spacingAndGlyphs" fill="#ffffff" font-size="8.9">Lawrence 15-1</text>
<text x="289.7" y="173.6" textLength="57.3" lengthAdjust="spacingAndGlyphs" fill="#ffffff" font-size="8.9">Clawson et al 1</text>
<text x="278.5" y="194.2" textLength="74.3" lengthAdjust="spacingAndGlyphs" fill="#ffffff" font-size="8.9">Hunter Power Plant</text>
<text x="331.2" y="77.5" textLength="93.6" lengthAdjust="spacingAndGlyphs" fill="#ffffff" font-size="8.9">Drunkards Wash #2 &amp; #3</text>
<text x="354.9" y="89.9" textLength="35.0" lengthAdjust="spacingAndGlyphs" fill="#ffffff" font-size="8.9">Utah D-6</text>
<text x="353.7" y="101.2" textLength="58.6" lengthAdjust="spacingAndGlyphs" fill="#ffffff" font-size="8.9">North Springs 1</text>
<text x="363.2" y="112.4" textLength="64.1" lengthAdjust="spacingAndGlyphs" fill="#ffffff" font-size="8.9">Washboard Wash</text>
<text x="362.4" y="124.1" textLength="41.9" lengthAdjust="spacingAndGlyphs" fill="#ffffff" font-size="8.9">USA 1&amp;1-A</text>
<text x="356.2" y="133.6" textLength="54.8" lengthAdjust="spacingAndGlyphs" fill="#ffffff" font-size="8.9">Tully 16-9-36D</text>
<text x="157.5" y="201.1" textLength="91.0" lengthAdjust="spacingAndGlyphs" fill="#ffffff" font-size="8.9">Ferron Unit Fee 4 (14-2)</text>
<text x="232.3" y="225.0" textLength="49.9" lengthAdjust="spacingAndGlyphs" fill="#ffffff" font-size="8.9">UPL 207-22-1</text>
<text x="168.2" y="233.6" textLength="50.4" lengthAdjust="spacingAndGlyphs" fill="#ffffff" font-size="8.9">Ferron Unit 5</text>
</g>
<g font-family="'Liberation Sans', Arial, sans-serif" font-weight="bold" font-size="8.0" fill="#262626">
<text x="221.8" y="25.5" text-anchor="middle" textLength="21.5" lengthAdjust="spacingAndGlyphs">460,000</text>
<text x="280.5" y="27.8" text-anchor="middle" textLength="21.5" lengthAdjust="spacingAndGlyphs">480,000</text>
<text x="336.1" y="30.0" text-anchor="middle" textLength="21.5" lengthAdjust="spacingAndGlyphs">500,000</text>
<text x="395.5" y="32.4" text-anchor="middle" textLength="21.5" lengthAdjust="spacingAndGlyphs">520,000</text>
<text x="322.9" y="19.0" text-anchor="middle" textLength="16.5" lengthAdjust="spacingAndGlyphs">x-axis</text>
<text x="199.8" y="35.6" text-anchor="middle" textLength="26.0" lengthAdjust="spacingAndGlyphs">4,400,000</text>
<text x="175.0" y="66.3" text-anchor="middle" textLength="26.0" lengthAdjust="spacingAndGlyphs">4,380,000</text>
<text x="145.5" y="104.2" text-anchor="middle" textLength="26.0" lengthAdjust="spacingAndGlyphs">4,360,000</text>
<text x="107.5" y="151.8" text-anchor="middle" textLength="26.0" lengthAdjust="spacingAndGlyphs">4,340,000</text>
<text x="54.5" y="216.6" text-anchor="middle" textLength="26.0" lengthAdjust="spacingAndGlyphs">4,320,000</text>
<text x="134.0" y="85.0" text-anchor="middle" textLength="16.5" lengthAdjust="spacingAndGlyphs">y-axis</text>
<text x="447.7" y="51.0" text-anchor="middle" textLength="26.0" lengthAdjust="spacingAndGlyphs">4,400,000</text>
<text x="447.7" y="82.7" text-anchor="middle" textLength="26.0" lengthAdjust="spacingAndGlyphs">4,380,000</text>
<text x="449.0" y="122.8" text-anchor="middle" textLength="26.0" lengthAdjust="spacingAndGlyphs">4,360,000</text>
<text x="451.5" y="176.2" text-anchor="middle" textLength="26.0" lengthAdjust="spacingAndGlyphs">4,340,000</text>
<text x="454.5" y="247.8" text-anchor="middle" textLength="26.0" lengthAdjust="spacingAndGlyphs">4,320,000</text>
<text x="473.8" y="130.4" text-anchor="middle" textLength="16.5" lengthAdjust="spacingAndGlyphs">y-axis</text>
<text x="42.0" y="304.5" text-anchor="middle">0</text>
<text x="28.0" y="313.0" text-anchor="middle" textLength="16.5" lengthAdjust="spacingAndGlyphs">z-axis</text>
<text x="440.0" y="327.5" text-anchor="middle">0</text>
<text x="455.0" y="331.3" text-anchor="middle" textLength="16.5" lengthAdjust="spacingAndGlyphs">z-axis</text>
<text x="66.8" y="324.6" text-anchor="middle" textLength="21.5" lengthAdjust="spacingAndGlyphs">460,000</text>
<text x="163.6" y="332.8" text-anchor="middle" textLength="21.5" lengthAdjust="spacingAndGlyphs">480,000</text>
<text x="264.0" y="341.2" text-anchor="middle" textLength="21.5" lengthAdjust="spacingAndGlyphs">500,000</text>
<text x="365.4" y="350.3" text-anchor="middle" textLength="21.5" lengthAdjust="spacingAndGlyphs">520,000</text>
<text x="238.0" y="349.8" text-anchor="middle" textLength="16.5" lengthAdjust="spacingAndGlyphs">x-axis</text>
</g>
<line x1="223.2" y1="30.1" x2="223.2" y2="27.1" stroke="#555" stroke-width="0.5" />
<line x1="280.0" y1="32.1" x2="280.0" y2="29.1" stroke="#555" stroke-width="0.5" />
<line x1="336.9" y1="34.2" x2="336.9" y2="31.2" stroke="#555" stroke-width="0.5" />
<line x1="394.7" y1="36.2" x2="394.7" y2="33.2" stroke="#555" stroke-width="0.5" />
<line x1="218.5" y1="36.1" x2="216.1" y2="34.2" stroke="#555" stroke-width="0.5" />
<line x1="194.9" y1="66.0" x2="192.5" y2="64.1" stroke="#555" stroke-width="0.5" />
<line x1="165.1" y1="103.8" x2="162.7" y2="101.9" stroke="#555" stroke-width="0.5" />
<line x1="126.4" y1="152.9" x2="124.0" y2="151.0" stroke="#555" stroke-width="0.5" />
<line x1="74.0" y1="219.3" x2="71.6" y2="217.4" stroke="#555" stroke-width="0.5" />
<line x1="67.4" y1="316.0" x2="67.7" y2="319.0" stroke="#555" stroke-width="0.5" />
<line x1="162.5" y1="323.4" x2="162.8" y2="326.4" stroke="#555" stroke-width="0.5" />
<line x1="261.3" y1="331.1" x2="261.6" y2="334.1" stroke="#555" stroke-width="0.5" />
<line x1="363.9" y1="339.2" x2="364.2" y2="342.2" stroke="#555" stroke-width="0.5" />
<line x1="436.0" y1="324.8" x2="438.2" y2="324.8" stroke="#555" stroke-width="0.5" />
<line x1="431.2" y1="48.2" x2="434.2" y2="48.2" stroke="#555" stroke-width="0.5" />
<line x1="431.8" y1="80.1" x2="434.8" y2="80.1" stroke="#555" stroke-width="0.5" />
<line x1="432.6" y1="120.3" x2="435.6" y2="120.3" stroke="#555" stroke-width="0.5" />
<line x1="434.0" y1="173.7" x2="437.0" y2="173.7" stroke="#555" stroke-width="0.5" />
<line x1="436.0" y1="245.3" x2="439.0" y2="245.3" stroke="#555" stroke-width="0.5" />
<g font-family="'Liberation Sans', Arial, sans-serif">
<text x="14.5" y="37.5" font-size="11.8" font-weight="bold" fill="#1a1a1a" textLength="55.6" lengthAdjust="spacingAndGlyphs">Formations</text>
<rect x="14.2" y="43.7" width="15.2" height="14.4" fill="#ed1c24"/>
<rect x="14.2" y="57.9" width="15.2" height="14.7" fill="#6abd45"/>
<rect x="14.2" y="72.4" width="15.2" height="14.6" fill="#3a53a4"/>
<rect x="14.2" y="86.8" width="15.2" height="14.9" fill="#f6eb14"/>
<rect x="14.2" y="101.5" width="15.2" height="14.2" fill="#f7941d"/>
<line x1="30.4" y1="51.1" x2="32.8" y2="51.1" stroke="#888" stroke-width="0.5"/>
<text x="34.9" y="53.6" font-size="7.0" fill="#1c1c1c" stroke="#1c1c1c" stroke-width="0.28" textLength="20" lengthAdjust="spacingAndGlyphs">Carmel</text>
<line x1="30.4" y1="65.6" x2="32.8" y2="65.6" stroke="#888" stroke-width="0.5"/>
<text x="34.9" y="68.1" font-size="7.0" fill="#1c1c1c" stroke="#1c1c1c" stroke-width="0.28" textLength="19.5" lengthAdjust="spacingAndGlyphs">Navajo</text>
<line x1="30.4" y1="80.3" x2="32.8" y2="80.3" stroke="#888" stroke-width="0.5"/>
<text x="34.9" y="82.8" font-size="7.0" fill="#1c1c1c" stroke="#1c1c1c" stroke-width="0.28" textLength="23.2" lengthAdjust="spacingAndGlyphs">Kayenta</text>
<line x1="30.4" y1="94.8" x2="32.8" y2="94.8" stroke="#888" stroke-width="0.5"/>
<text x="34.9" y="97.3" font-size="7.0" fill="#1c1c1c" stroke="#1c1c1c" stroke-width="0.28" textLength="23.5" lengthAdjust="spacingAndGlyphs">Wingate</text>
<line x1="30.4" y1="109.0" x2="32.8" y2="109.0" stroke="#888" stroke-width="0.5"/>
<text x="34.9" y="111.5" font-size="7.0" fill="#1c1c1c" stroke="#1c1c1c" stroke-width="0.28" textLength="18" lengthAdjust="spacingAndGlyphs">Chinle</text>
</g>
<g>
<polygon points="39.8,335 49.3,335 49.3,353.1 39.8,353.1" fill="#e01b2a"/>
<polygon points="36.2,335 40.1,335 40.1,340.5 36.2,340.5" fill="#e01b2a"/>
<polygon points="49.3,335 54.1,335 54.1,340.5 49.3,340.5" fill="#e01b2a"/>
<polygon points="36.2,335 40.1,335 40.1,337.8 36.2,337.8" fill="#2f9e3f"/>
<polygon points="49.3,335 54.1,335 54.1,337.8 49.3,337.8" fill="#2f9e3f"/>
<polygon points="39.8,334 49.3,334 49.3,350.1 39.8,350.1" fill="#3bb54a"/>
<polygon points="48,336 49.3,336 49.3,353.1 48,353.1" fill="#1d6b2a" opacity="0.7"/>
<polygon points="46.6,322.6 54.6,335.4 36,335.4" fill="#3bb54a" stroke="#2a8f3a" stroke-width="0.4"/>
</g>
<g font-family="'Liberation Sans', Arial, sans-serif" font-size="10.4" fill="#303030">
<text x="377" y="356.6" textLength="112.4" lengthAdjust="spacingAndGlyphs">2x Vertical Exaggeration</text>
<text x="377" y="449.8" textLength="112.4" lengthAdjust="spacingAndGlyphs">5x Vertical Exaggeration</text>
</g>
<line x1="30" y1="374.6" x2="491.5" y2="374.6" stroke="#cde2f2" stroke-width="0.9"/>
<line x1="492.2" y1="512" x2="489.9" y2="543.4" stroke="#bfddf3" stroke-width="0.9"/>
<defs><linearGradient id="dg" gradientUnits="userSpaceOnUse" x1="0" y1="405" x2="0" y2="500">
<stop offset="0" stop-color="#7c1018"/><stop offset="0.35" stop-color="#5a0b12"/><stop offset="0.75" stop-color="#1e0406"/><stop offset="1" stop-color="#080102"/></linearGradient>
<linearGradient id="dbase" gradientUnits="userSpaceOnUse" x1="80" y1="0" x2="420" y2="0"><stop offset="0" stop-color="#080102"/><stop offset="0.3" stop-color="#1c0407"/><stop offset="0.55" stop-color="#2e070b"/><stop offset="1" stop-color="#2a0609"/></linearGradient>
<linearGradient id="dg2" gradientUnits="userSpaceOnUse" x1="60" y1="0" x2="300" y2="0">
<stop offset="0" stop-color="#000" stop-opacity="0.75"/><stop offset="0.45" stop-color="#000" stop-opacity="0.25"/><stop offset="1" stop-color="#000" stop-opacity="0"/></linearGradient></defs>
<clipPath id="dsclip"><path d="M74.0,499.5 C75.0,498.8 77.6,496.8 79.8,495.5 C82.0,494.2 84.8,493.1 87.0,491.9 C89.2,490.7 91.0,489.6 93.0,488.4 C95.0,487.2 97.0,486.2 99.0,484.8 C101.0,483.4 102.9,481.7 104.9,480.0 C106.9,478.3 109.1,476.3 110.9,474.6 C112.7,472.9 114.1,471.4 115.7,469.8 C117.3,468.2 118.1,467.8 120.5,465.0 C122.9,462.2 127.1,456.8 130.0,452.9 C132.9,449.0 136.0,444.1 138.0,441.9 C140.0,439.7 140.0,440.6 142.0,439.9 C144.0,439.2 147.0,438.3 150.0,437.5 C153.0,436.7 154.9,436.6 159.9,434.9 C164.9,433.1 173.2,429.6 179.9,427.0 C186.6,424.4 193.2,421.6 199.8,419.0 C206.5,416.4 214.8,413.2 219.8,411.5 C224.8,409.8 226.6,409.4 230.0,408.6 C233.4,407.9 236.0,407.4 240.0,407.0 C244.0,406.6 248.9,406.0 253.9,406.0 C258.9,406.0 263.9,406.5 269.9,407.0 C275.9,407.5 284.9,408.4 289.9,409.0 C294.9,409.6 296.5,410.0 299.8,410.3 C303.1,410.6 306.5,410.7 309.8,410.7 C313.1,410.7 316.4,410.4 319.8,410.4 C323.2,410.4 325.0,410.6 330.0,410.5 C335.0,410.4 344.7,410.2 350.0,409.9 C355.3,409.6 358.6,409.1 361.9,408.5 C365.2,407.9 365.2,407.6 369.9,406.5 C374.5,405.4 384.8,402.9 389.8,401.9 C394.8,400.9 396.6,401.0 400.0,400.5 C403.4,400.0 407.0,399.6 410.0,398.9 C413.0,398.2 415.3,396.5 418.0,396.5 C420.7,396.5 423.5,398.2 426.0,398.9 C428.5,399.6 430.7,400.6 433.0,400.9 C435.3,401.2 435.5,402.2 440.0,400.9 C444.5,399.6 452.3,395.3 459.9,392.9 C467.5,390.5 481.1,387.6 485.4,386.5 L485.4,390.5 C481.1,392.1 467.5,395.3 459.9,397.9 C452.3,400.5 446.5,403.7 439.9,406.4 C433.2,409.1 425.0,412.6 420.0,414.3 C415.0,416.0 414.8,416.0 409.8,416.8 C404.8,417.6 394.8,418.4 389.8,419.0 C384.8,419.6 383.3,420.0 380.0,420.6 C376.7,421.2 373.3,422.1 370.0,422.9 C366.7,423.6 363.3,424.3 360.0,425.1 C356.7,425.9 353.3,426.8 350.0,427.7 C346.7,428.6 343.3,429.6 340.0,430.5 C336.7,431.4 335.0,431.3 330.0,432.9 C325.0,434.5 317.5,437.9 310.0,439.9 C302.5,441.8 291.4,443.2 284.9,444.6 C278.4,446.0 275.6,446.8 270.9,448.1 C266.2,449.4 262.7,450.9 256.9,452.2 C251.1,453.5 243.0,454.4 236.0,456.0 C229.0,457.6 226.0,458.6 215.0,462.0 C204.0,465.4 185.7,471.1 169.9,476.2 C154.1,481.3 135.0,487.3 120.0,492.5 C105.0,497.7 88.2,504.3 79.9,507.4 C71.6,510.5 71.6,510.3 69.9,510.9 Z"/></clipPath>
<path d="M74.0,499.5 C75.0,498.8 77.6,496.8 79.8,495.5 C82.0,494.2 84.8,493.1 87.0,491.9 C89.2,490.7 91.0,489.6 93.0,488.4 C95.0,487.2 97.0,486.2 99.0,484.8 C101.0,483.4 102.9,481.7 104.9,480.0 C106.9,478.3 109.1,476.3 110.9,474.6 C112.7,472.9 114.1,471.4 115.7,469.8 C117.3,468.2 118.1,467.8 120.5,465.0 C122.9,462.2 127.1,456.8 130.0,452.9 C132.9,449.0 136.0,444.1 138.0,441.9 C140.0,439.7 140.0,440.6 142.0,439.9 C144.0,439.2 147.0,438.3 150.0,437.5 C153.0,436.7 154.9,436.6 159.9,434.9 C164.9,433.1 173.2,429.6 179.9,427.0 C186.6,424.4 193.2,421.6 199.8,419.0 C206.5,416.4 214.8,413.2 219.8,411.5 C224.8,409.8 226.6,409.4 230.0,408.6 C233.4,407.9 236.0,407.4 240.0,407.0 C244.0,406.6 248.9,406.0 253.9,406.0 C258.9,406.0 263.9,406.5 269.9,407.0 C275.9,407.5 284.9,408.4 289.9,409.0 C294.9,409.6 296.5,410.0 299.8,410.3 C303.1,410.6 306.5,410.7 309.8,410.7 C313.1,410.7 316.4,410.4 319.8,410.4 C323.2,410.4 325.0,410.6 330.0,410.5 C335.0,410.4 344.7,410.2 350.0,409.9 C355.3,409.6 358.6,409.1 361.9,408.5 C365.2,407.9 365.2,407.6 369.9,406.5 C374.5,405.4 384.8,402.9 389.8,401.9 C394.8,400.9 396.6,401.0 400.0,400.5 C403.4,400.0 407.0,399.6 410.0,398.9 C413.0,398.2 415.3,396.5 418.0,396.5 C420.7,396.5 423.5,398.2 426.0,398.9 C428.5,399.6 430.7,400.6 433.0,400.9 C435.3,401.2 435.5,402.2 440.0,400.9 C444.5,399.6 452.3,395.3 459.9,392.9 C467.5,390.5 481.1,387.6 485.4,386.5 L485.4,390.5 C481.1,392.1 467.5,395.3 459.9,397.9 C452.3,400.5 446.5,403.7 439.9,406.4 C433.2,409.1 425.0,412.6 420.0,414.3 C415.0,416.0 414.8,416.0 409.8,416.8 C404.8,417.6 394.8,418.4 389.8,419.0 C384.8,419.6 383.3,420.0 380.0,420.6 C376.7,421.2 373.3,422.1 370.0,422.9 C366.7,423.6 363.3,424.3 360.0,425.1 C356.7,425.9 353.3,426.8 350.0,427.7 C346.7,428.6 343.3,429.6 340.0,430.5 C336.7,431.4 335.0,431.3 330.0,432.9 C325.0,434.5 317.5,437.9 310.0,439.9 C302.5,441.8 291.4,443.2 284.9,444.6 C278.4,446.0 275.6,446.8 270.9,448.1 C266.2,449.4 262.7,450.9 256.9,452.2 C251.1,453.5 243.0,454.4 236.0,456.0 C229.0,457.6 226.0,458.6 215.0,462.0 C204.0,465.4 185.7,471.1 169.9,476.2 C154.1,481.3 135.0,487.3 120.0,492.5 C105.0,497.7 88.2,504.3 79.9,507.4 C71.6,510.5 71.6,510.3 69.9,510.9 Z" fill="url(#dbase)"/>
<g clip-path="url(#dsclip)">
<path d="M74.0,499.5 C75.0,498.8 77.6,496.8 79.8,495.5 C82.0,494.2 84.8,493.1 87.0,491.9 C89.2,490.7 91.0,489.6 93.0,488.4 C95.0,487.2 97.0,486.2 99.0,484.8 C101.0,483.4 102.9,481.7 104.9,480.0 C106.9,478.3 109.1,476.3 110.9,474.6 C112.7,472.9 114.1,471.4 115.7,469.8 C117.3,468.2 118.1,467.8 120.5,465.0 C122.9,462.2 127.1,456.8 130.0,452.9 C132.9,449.0 136.7,443.7 138.0,441.9" fill="none" stroke="#5e0d15" stroke-width="6" filter="url(#bl2)"/>
<path d="M309.8,410.7 C311.5,410.6 316.4,410.4 319.8,410.4 C323.2,410.4 325.0,410.6 330.0,410.5 C335.0,410.4 344.7,410.2 350.0,409.9 C355.3,409.6 358.6,409.1 361.9,408.5 C365.2,407.9 365.2,407.6 369.9,406.5 C374.5,405.4 384.8,402.9 389.8,401.9 C394.8,400.9 396.6,401.0 400.0,400.5 C403.4,400.0 407.0,399.6 410.0,398.9 C413.0,398.2 415.3,396.5 418.0,396.5 C420.7,396.5 423.5,398.2 426.0,398.9 C428.5,399.6 430.7,400.6 433.0,400.9 C435.3,401.2 435.5,402.2 440.0,400.9 C444.5,399.6 452.3,395.3 459.9,392.9 C467.5,390.5 481.1,387.6 485.4,386.5" fill="none" stroke="#3c080d" stroke-width="22" filter="url(#bl3)"/>
<path d="M138.0,441.9 C138.7,441.6 140.0,440.6 142.0,439.9 C144.0,439.2 147.0,438.3 150.0,437.5 C153.0,436.7 154.9,436.6 159.9,434.9 C164.9,433.1 173.2,429.6 179.9,427.0 C186.6,424.4 193.2,421.6 199.8,419.0 C206.5,416.4 214.8,413.2 219.8,411.5 C224.8,409.8 226.6,409.4 230.0,408.6 C233.4,407.9 236.0,407.4 240.0,407.0 C244.0,406.6 248.9,406.0 253.9,406.0 C258.9,406.0 263.9,406.5 269.9,407.0 C275.9,407.5 284.9,408.4 289.9,409.0 C294.9,409.6 296.5,410.0 299.8,410.3 C303.1,410.6 306.5,410.7 309.8,410.7 C313.1,410.7 316.4,410.4 319.8,410.4 C323.2,410.4 328.3,410.5 330.0,410.5" fill="none" stroke="#4e0b12" stroke-width="50" stroke-linecap="round" filter="url(#bl)"/>
<path d="M138.0,441.9 C138.7,441.6 140.0,440.6 142.0,439.9 C144.0,439.2 147.0,438.3 150.0,437.5 C153.0,436.7 154.9,436.6 159.9,434.9 C164.9,433.1 173.2,429.6 179.9,427.0 C186.6,424.4 193.2,421.6 199.8,419.0 C206.5,416.4 214.8,413.2 219.8,411.5 C224.8,409.8 226.6,409.4 230.0,408.6 C233.4,407.9 236.0,407.4 240.0,407.0 C244.0,406.6 248.9,406.0 253.9,406.0 C258.9,406.0 263.9,406.5 269.9,407.0 C275.9,407.5 284.9,408.4 289.9,409.0 C294.9,409.6 296.5,410.0 299.8,410.3 C303.1,410.6 306.5,410.7 309.8,410.7 C313.1,410.7 316.4,410.4 319.8,410.4 C323.2,410.4 328.3,410.5 330.0,410.5" fill="none" stroke="#75131c" stroke-width="20" stroke-linecap="round" filter="url(#bl)"/>
<path d="M142.0,439.9 C143.3,439.5 147.0,438.3 150.0,437.5 C153.0,436.7 154.9,436.6 159.9,434.9 C164.9,433.1 173.2,429.6 179.9,427.0 C186.6,424.4 193.2,421.6 199.8,419.0 C206.5,416.4 214.8,413.2 219.8,411.5 C224.8,409.8 226.6,409.4 230.0,408.6 C233.4,407.9 236.0,407.4 240.0,407.0 C244.0,406.6 248.9,406.0 253.9,406.0 C258.9,406.0 263.9,406.5 269.9,407.0 C275.9,407.5 284.9,408.4 289.9,409.0 C294.9,409.6 298.1,410.1 299.8,410.3" fill="none" stroke="#851a22" stroke-width="7" filter="url(#bl3)"/>
</g>
<path d="M38.0,534.1 C39.1,533.8 42.2,532.8 44.4,532.1 C46.5,531.5 48.6,530.8 50.7,530.1 C52.8,529.5 55.0,528.8 57.1,528.1 C59.2,527.5 61.3,526.8 63.5,526.1 C65.6,525.5 67.7,524.8 69.8,524.1 C71.9,523.5 74.1,522.8 76.2,522.1 C78.3,521.4 80.4,520.6 82.5,519.8 C84.7,519.0 86.8,518.1 88.9,517.3 C91.0,516.4 93.2,515.5 95.3,514.7 C97.4,513.8 99.5,513.0 101.6,512.1 C103.8,511.3 106.9,510.0 108.0,509.5 L108.0,510.3 C106.9,511.0 103.8,513.0 101.6,514.2 C99.5,515.4 97.4,516.5 95.3,517.6 C93.2,518.6 91.0,519.7 88.9,520.7 C86.8,521.7 84.7,522.7 82.5,523.6 C80.4,524.5 78.3,525.3 76.2,526.1 C74.1,526.8 71.9,527.5 69.8,528.1 C67.7,528.7 65.6,529.3 63.5,529.9 C61.3,530.5 59.2,531.0 57.1,531.6 C55.0,532.1 52.8,532.6 50.7,533.0 C48.6,533.5 46.5,533.9 44.4,534.2 C42.2,534.6 39.1,534.8 38.0,534.9 Z" fill="#140b08"/>
<path d="M352.0,436.8 C353.5,436.4 357.8,435.0 360.7,434.4 C363.6,433.7 366.5,433.3 369.5,432.7 C372.4,432.1 375.3,431.5 378.2,431.0 C381.1,430.4 384.0,429.9 386.9,429.4 C389.8,428.9 392.7,428.5 395.6,428.1 C398.5,427.7 401.5,427.3 404.4,426.9 C407.3,426.5 410.2,426.2 413.1,425.7 C416.0,425.1 418.9,424.7 421.8,423.8 C424.7,422.9 427.6,421.4 430.5,420.3 C433.5,419.1 436.4,418.0 439.3,416.8 C442.2,415.5 446.5,413.6 448.0,412.9 L448.0,413.7 C446.5,414.5 442.2,416.8 439.3,418.3 C436.4,419.7 433.5,420.9 430.5,422.2 C427.6,423.5 424.7,425.0 421.8,426.0 C418.9,426.9 416.0,427.5 413.1,428.0 C410.2,428.6 407.3,429.0 404.4,429.4 C401.5,429.8 398.5,430.2 395.6,430.6 C392.7,431.0 389.8,431.4 386.9,431.8 C384.0,432.2 381.1,432.7 378.2,433.2 C375.3,433.6 372.4,434.2 369.5,434.6 C366.5,435.1 363.6,435.4 360.7,435.9 C357.8,436.4 353.5,437.3 352.0,437.6 Z" fill="#140b08"/>
<path d="M26.6,516.6 C33.8,514.0 61.0,504.1 69.9,500.9 C78.8,497.7 71.6,500.2 79.9,497.2 C88.2,494.2 105.0,488.0 120.0,482.9 C135.0,477.8 154.1,471.7 169.9,466.8 C185.7,461.9 204.0,456.6 215.0,453.6 C226.0,450.6 229.0,450.4 236.0,448.8 C243.0,447.2 251.1,445.4 256.9,443.9 C262.7,442.4 266.2,441.1 270.9,439.7 C275.6,438.3 278.4,437.0 284.9,435.5 C291.4,434.0 302.5,432.5 310.0,430.9 C317.5,429.3 325.0,426.8 330.0,425.7 C335.0,424.6 336.7,424.6 340.0,424.0 C343.3,423.4 346.7,422.5 350.0,421.8 C353.3,421.1 356.7,420.4 360.0,419.8 C363.3,419.2 366.7,418.6 370.0,418.0 C373.3,417.4 376.7,416.7 380.0,416.2 C383.3,415.7 384.8,415.5 389.8,415.0 C394.8,414.5 404.8,413.7 409.8,413.0 C414.8,412.3 415.0,412.6 420.0,410.9 C425.0,409.2 433.2,405.5 439.9,402.8 C446.5,400.1 452.3,397.4 459.9,394.9 C467.5,392.4 481.1,389.1 485.4,387.9 L485.4,390.9 C481.1,392.1 467.5,395.3 459.9,397.9 C452.3,400.5 446.5,403.7 439.9,406.4 C433.2,409.1 425.0,412.6 420.0,414.3 C415.0,416.0 414.8,416.0 409.8,416.8 C404.8,417.6 394.8,418.4 389.8,419.0 C384.8,419.6 383.3,420.0 380.0,420.6 C376.7,421.2 373.3,422.1 370.0,422.9 C366.7,423.6 363.3,424.3 360.0,425.1 C356.7,425.9 353.3,426.8 350.0,427.7 C346.7,428.6 343.3,429.6 340.0,430.5 C336.7,431.4 335.0,431.3 330.0,432.9 C325.0,434.5 317.5,437.9 310.0,439.9 C302.5,441.8 291.4,443.2 284.9,444.6 C278.4,446.0 275.6,446.8 270.9,448.1 C266.2,449.4 262.7,450.9 256.9,452.2 C251.1,453.5 243.0,454.4 236.0,456.0 C229.0,457.6 226.0,458.6 215.0,462.0 C204.0,465.4 185.7,471.1 169.9,476.2 C154.1,481.3 135.0,487.3 120.0,492.5 C105.0,497.7 88.2,504.3 79.9,507.4 C71.6,510.5 78.5,507.8 69.9,510.9 C61.3,514.0 35.4,523.4 28.5,525.9 Z" fill="#ee2724"/>
<path d="M28.5,525.9 C35.4,523.4 61.3,514.0 69.9,510.9 C78.5,507.8 71.6,510.5 79.9,507.4 C88.2,504.3 105.0,497.7 120.0,492.5 C135.0,487.3 154.1,481.3 169.9,476.2 C185.7,471.1 204.0,465.4 215.0,462.0 C226.0,458.6 229.0,457.6 236.0,456.0 C243.0,454.4 251.1,453.5 256.9,452.2 C262.7,450.9 266.2,449.4 270.9,448.1 C275.6,446.8 278.4,446.0 284.9,444.6 C291.4,443.2 302.5,441.8 310.0,439.9 C317.5,437.9 325.0,434.5 330.0,432.9 C335.0,431.3 336.7,431.4 340.0,430.5 C343.3,429.6 346.7,428.6 350.0,427.7 C353.3,426.8 356.7,425.9 360.0,425.1 C363.3,424.3 366.7,423.6 370.0,422.9 C373.3,422.1 376.7,421.2 380.0,420.6 C383.3,420.0 384.8,419.6 389.8,419.0 C394.8,418.4 404.8,417.6 409.8,416.8 C414.8,416.0 415.0,416.0 420.0,414.3 C425.0,412.6 433.2,409.1 439.9,406.4 C446.5,403.7 452.3,400.5 459.9,397.9 C467.5,395.3 481.1,392.1 485.4,390.9 L485.4,393.9 C481.1,395.1 467.5,398.3 459.9,400.9 C452.3,403.5 446.5,406.8 439.9,409.5 C433.2,412.2 425.0,415.7 420.0,417.3 C415.0,418.9 414.8,418.7 409.8,419.3 C404.8,419.9 394.8,420.6 389.8,421.2 C384.8,421.8 383.3,422.3 380.0,423.0 C376.7,423.7 373.3,424.5 370.0,425.2 C366.7,425.9 363.3,426.5 360.0,427.3 C356.7,428.1 353.3,429.2 350.0,430.2 C346.7,431.2 343.3,432.3 340.0,433.2 C336.7,434.1 335.0,433.9 330.0,435.6 C325.0,437.3 317.5,441.1 310.0,443.3 C302.5,445.5 291.4,447.3 284.9,448.8 C278.4,450.3 275.6,451.1 270.9,452.2 C266.2,453.3 262.7,454.3 256.9,455.5 C251.1,456.7 243.0,457.5 236.0,459.2 C229.0,460.9 226.0,461.9 215.0,465.5 C204.0,469.1 185.7,475.4 169.9,480.6 C154.1,485.9 135.0,491.7 120.0,497.0 C105.0,502.3 88.2,509.1 79.9,512.2 C71.6,515.3 78.3,512.6 69.9,515.7 C61.5,518.8 36.2,528.2 29.5,530.7 Z" fill="#6cbd45"/>
<path d="M29.5,530.7 C36.2,528.2 61.5,518.8 69.9,515.7 C78.3,512.6 71.6,515.3 79.9,512.2 C88.2,509.1 105.0,502.3 120.0,497.0 C135.0,491.7 154.1,485.9 169.9,480.6 C185.7,475.4 204.0,469.1 215.0,465.5 C226.0,461.9 229.0,460.9 236.0,459.2 C243.0,457.5 251.1,456.7 256.9,455.5 C262.7,454.3 266.2,453.3 270.9,452.2 C275.6,451.1 278.4,450.3 284.9,448.8 C291.4,447.3 302.5,445.5 310.0,443.3 C317.5,441.1 325.0,437.3 330.0,435.6 C335.0,433.9 336.7,434.1 340.0,433.2 C343.3,432.3 346.7,431.2 350.0,430.2 C353.3,429.2 356.7,428.1 360.0,427.3 C363.3,426.5 366.7,425.9 370.0,425.2 C373.3,424.5 376.7,423.7 380.0,423.0 C383.3,422.3 384.8,421.8 389.8,421.2 C394.8,420.6 404.8,419.9 409.8,419.3 C414.8,418.7 415.0,418.9 420.0,417.3 C425.0,415.7 433.2,412.2 439.9,409.5 C446.5,406.8 452.3,403.5 459.9,400.9 C467.5,398.3 481.1,395.1 485.4,393.9 L485.4,395.3 C481.1,396.5 467.5,399.7 459.9,402.3 C452.3,404.9 446.5,408.2 439.9,411.0 C433.2,413.8 425.0,417.3 420.0,418.9 C415.0,420.5 414.8,420.1 409.8,420.8 C404.8,421.5 394.8,422.5 389.8,423.2 C384.8,423.9 383.3,424.4 380.0,425.1 C376.7,425.8 373.3,426.7 370.0,427.5 C366.7,428.3 363.3,429.0 360.0,429.9 C356.7,430.8 353.3,431.8 350.0,432.7 C346.7,433.6 343.3,434.8 340.0,435.6 C336.7,436.4 335.0,436.1 330.0,437.7 C325.0,439.2 317.5,442.8 310.0,444.9 C302.5,447.0 291.4,448.8 284.9,450.2 C278.4,451.6 275.6,452.4 270.9,453.4 C266.2,454.4 262.7,455.3 256.9,456.4 C251.1,457.5 243.0,458.2 236.0,459.9 C229.0,461.6 226.0,462.8 215.0,466.5 C204.0,470.2 185.7,476.8 169.9,482.1 C154.1,487.4 135.0,493.3 120.0,498.5 C105.0,503.7 88.2,510.3 79.9,513.4 C71.6,516.5 78.3,513.8 69.9,516.9 C61.5,520.0 36.4,529.4 29.7,531.9 Z" fill="#3953a4"/>
<path d="M29.7,531.9 C36.4,529.4 61.5,520.0 69.9,516.9 C78.3,513.8 71.6,516.5 79.9,513.4 C88.2,510.3 105.0,503.7 120.0,498.5 C135.0,493.3 154.1,487.4 169.9,482.1 C185.7,476.8 204.0,470.2 215.0,466.5 C226.0,462.8 229.0,461.6 236.0,459.9 C243.0,458.2 251.1,457.5 256.9,456.4 C262.7,455.3 266.2,454.4 270.9,453.4 C275.6,452.4 278.4,451.6 284.9,450.2 C291.4,448.8 302.5,447.0 310.0,444.9 C317.5,442.8 325.0,439.2 330.0,437.7 C335.0,436.1 336.7,436.4 340.0,435.6 C343.3,434.8 346.7,433.6 350.0,432.7 C353.3,431.8 356.7,430.8 360.0,429.9 C363.3,429.0 366.7,428.3 370.0,427.5 C373.3,426.7 376.7,425.8 380.0,425.1 C383.3,424.4 384.8,423.9 389.8,423.2 C394.8,422.5 404.8,421.5 409.8,420.8 C414.8,420.1 415.0,420.5 420.0,418.9 C425.0,417.3 433.2,413.8 439.9,411.0 C446.5,408.2 452.3,404.9 459.9,402.3 C467.5,399.7 481.1,396.5 485.4,395.3 L485.4,398.9 C481.1,400.1 467.5,403.3 459.9,405.9 C452.3,408.5 446.5,411.6 439.9,414.3 C433.2,417.0 425.0,420.6 420.0,422.3 C415.0,424.0 414.8,423.6 409.8,424.3 C404.8,425.1 394.8,426.1 389.8,426.8 C384.8,427.5 383.3,428.0 380.0,428.7 C376.7,429.4 373.3,430.1 370.0,430.8 C366.7,431.5 363.3,432.1 360.0,432.9 C356.7,433.7 353.3,434.7 350.0,435.6 C346.7,436.5 343.3,437.5 340.0,438.3 C336.7,439.1 335.0,439.2 330.0,440.7 C325.0,442.2 317.5,445.1 310.0,447.3 C302.5,449.5 291.4,452.1 284.9,453.6 C278.4,455.1 275.6,455.7 270.9,456.4 C266.2,457.1 262.7,456.9 256.9,457.8 C251.1,458.7 243.0,459.8 236.0,461.6 C229.0,463.4 226.0,464.6 215.0,468.6 C204.0,472.6 185.7,479.8 169.9,485.4 C154.1,491.0 135.0,496.9 120.0,502.3 C105.0,507.7 88.2,514.6 79.9,517.8 C71.6,521.0 78.1,518.2 69.9,521.3 C61.7,524.3 37.2,533.6 30.6,536.1 Z" fill="#f8ec1b"/>
<path d="M30.6,536.1 C37.2,533.6 61.7,524.3 69.9,521.3 C78.1,518.2 71.6,521.0 79.9,517.8 C88.2,514.6 105.0,507.7 120.0,502.3 C135.0,496.9 154.1,491.0 169.9,485.4 C185.7,479.8 204.0,472.6 215.0,468.6 C226.0,464.6 229.0,463.4 236.0,461.6 C243.0,459.8 251.1,458.7 256.9,457.8 C262.7,456.9 266.2,457.1 270.9,456.4 C275.6,455.7 278.4,455.1 284.9,453.6 C291.4,452.1 302.5,449.5 310.0,447.3 C317.5,445.1 325.0,442.2 330.0,440.7 C335.0,439.2 336.7,439.1 340.0,438.3 C343.3,437.5 346.7,436.5 350.0,435.6 C353.3,434.7 356.7,433.7 360.0,432.9 C363.3,432.1 366.7,431.5 370.0,430.8 C373.3,430.1 376.7,429.4 380.0,428.7 C383.3,428.0 384.8,427.5 389.8,426.8 C394.8,426.1 404.8,425.1 409.8,424.3 C414.8,423.6 415.0,424.0 420.0,422.3 C425.0,420.6 433.2,417.0 439.9,414.3 C446.5,411.6 452.3,408.5 459.9,405.9 C467.5,403.3 481.1,400.1 485.4,398.9 L485.4,401.5 C481.1,402.7 467.5,405.9 459.9,408.5 C452.3,411.1 446.5,414.5 439.9,417.3 C433.2,420.1 425.0,423.7 420.0,425.3 C415.0,426.9 414.8,426.3 409.8,427.0 C404.8,427.7 394.8,429.0 389.8,429.7 C384.8,430.4 383.3,430.8 380.0,431.4 C376.7,432.0 373.3,432.8 370.0,433.4 C366.7,434.0 363.3,434.5 360.0,435.3 C356.7,436.1 353.3,437.2 350.0,438.2 C346.7,439.2 343.3,440.2 340.0,441.1 C336.7,442.0 335.0,441.9 330.0,443.4 C325.0,444.9 317.5,447.6 310.0,449.9 C302.5,452.1 291.4,455.4 284.9,456.9 C278.4,458.4 275.6,458.5 270.9,459.0 C266.2,459.5 262.7,459.2 256.9,459.9 C251.1,460.6 243.0,461.5 236.0,463.4 C229.0,465.3 226.0,467.3 215.0,471.4 C204.0,475.5 185.7,482.5 169.9,488.2 C154.1,493.9 135.0,499.9 120.0,505.5 C105.0,511.1 88.2,518.5 79.9,521.7 C71.6,524.9 78.0,522.1 69.9,524.9 C61.8,527.7 37.6,536.2 31.1,538.5 Z" fill="#f7981d"/>
<line x1="253.7" y1="379" x2="258.3" y2="443.2" stroke="#8a7a1a" stroke-width="0.9"/>
<line x1="254" y1="379" x2="258.6" y2="443.2" stroke="#2a2208" stroke-width="0.4"/>
<g font-family="'Liberation Sans', Arial, sans-serif" font-size="7.1" fill="#18233d" stroke="#18233d" stroke-width="0.15">
<text x="256.1" y="378.6" textLength="57.4" lengthAdjust="spacingAndGlyphs">Buzzards Bench #6</text>
</g>
<g stroke="#333" stroke-width="0.6" fill="none"><circle cx="252.4" cy="362.3" r="1.6"/><line x1="250.4" y1="364.6" x2="254.4" y2="360"/></g>
</svg>
</body></html>
